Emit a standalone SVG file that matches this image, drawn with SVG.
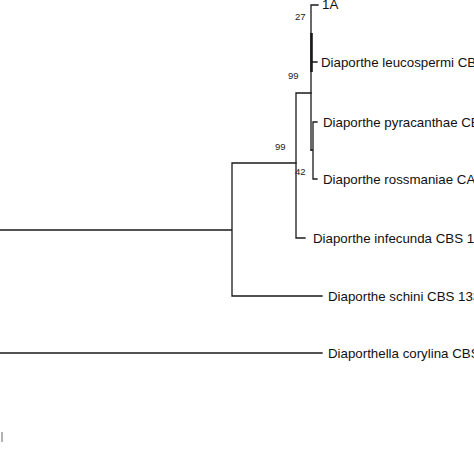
<svg xmlns="http://www.w3.org/2000/svg" width="474" height="474" viewBox="0 0 474 474">
<style>
.br{stroke:#1a1a1a;stroke-width:1.3;fill:none;stroke-linecap:square}
.tx{font-family:"Liberation Sans",Arial,sans-serif;font-size:13.3px;fill:#111}
.bs{font-family:"Liberation Sans",Arial,sans-serif;font-size:9.5px;fill:#222}
</style>
<rect width="474" height="474" fill="#fff"/>
<g id="connectors">
<path class="br" d="M0,230 H232 M232,163 V296 M232,163 H296 M232,296 H322"/>
<path class="br" d="M296,93 V238 M296,238 H305 M296,93 H311"/>
<path class="br" d="M311,150 H313 M313,122 V179 M313,122 H317 M313,179 H317"/>
<path class="br" d="M311,5 V150 M311,5 H318 M311,62 H317"/>
<path d="M311.5,33 V72" stroke="#1a1a1a" stroke-width="2.6"/>
<path class="br" d="M0,353 H322"/>
<path d="M2,432 V442" stroke="#999" stroke-width="1.5"/>
</g>
<g id="n-1A"><text class="tx" x="322" y="9" font-size="14.5">1A</text></g>
<g id="n-leucospermi"><text class="tx" x="321" y="67">Diaporthe leucospermi CBS</text></g>
<g id="n-pyracanthae"><text class="tx" x="323" y="127">Diaporthe pyracanthae CBS</text></g>
<g id="n-rossmaniae"><text class="tx" x="323" y="184">Diaporthe rossmaniae CAA</text></g>
<g id="n-infecunda"><text class="tx" x="313" y="243">Diaporthe infecunda CBS 133</text></g>
<g id="n-schini"><text class="tx" x="328" y="301">Diaporthe schini CBS 133</text></g>
<g id="n-corylina"><text class="tx" x="328" y="358">Diaporthella corylina CBS</text></g>
<g id="support">
<text class="bs" x="295" y="20">27</text>
<text class="bs" x="288" y="79">99</text>
<text class="bs" x="275" y="150">99</text>
<text class="bs" x="295" y="175">42</text>
</g>
</svg>
